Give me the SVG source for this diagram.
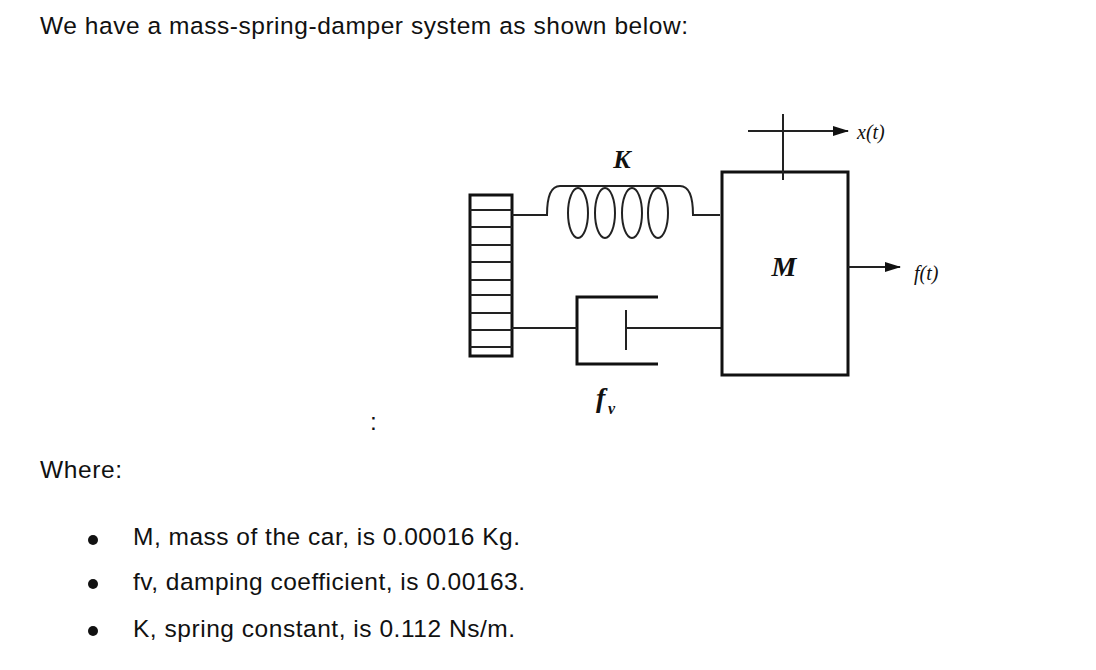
<svg xmlns="http://www.w3.org/2000/svg" width="1096" height="670" viewBox="0 0 1096 670">
<style>
.t{font-family:"Liberation Sans",Arial,sans-serif;font-size:24.5px;fill:#111}
.l{fill:none;stroke:#111;stroke-width:3}
.th{fill:none;stroke:#222;stroke-width:2}
.m{font-family:"Liberation Serif",serif;font-style:italic;fill:#111}
</style>
<defs><marker id="a" markerWidth="16" markerHeight="10" refX="15" refY="5" orient="auto" markerUnits="userSpaceOnUse"><path d="M0,0L16,5L0,10z" fill="#111"/></marker></defs>
<rect width="1096" height="670" fill="#fff"/>
<text class="t" x="40" y="34" textLength="648">We have a mass-spring-damper system as shown below:</text>
<g id="wall">
<rect class="l" x="470" y="195" width="42" height="161"/>
<path class="th" d="M470 210H512M470 227H512M470 245H512M470 262H512M470 280H512M470 295H512M470 313H512M470 330H512M470 347H512" stroke-width="1.2" stroke="#666"/>
</g>
<g id="spring">
<path class="th" d="M512 215H547Q547 186 560 186H680Q693 186 693 215H720"/>
<g class="th"><ellipse cx="578" cy="213" rx="10" ry="25"/><ellipse cx="605" cy="213" rx="10" ry="25"/><ellipse cx="632" cy="213" rx="10" ry="25"/><ellipse cx="658" cy="213" rx="10" ry="25"/></g>
<text class="m" x="622" y="168" font-size="26" font-weight="bold" text-anchor="middle">K</text>
</g>
<g id="damper">
<path class="l" d="M658 297H577V364H658"/>
<path class="th" d="M512 328H577M626 310V350M626 328H722"/>
<text class="m" x="596" y="407" font-size="28" font-weight="bold">f</text><text class="m" x="608" y="414" font-size="16" font-weight="bold">v</text>
</g>
<g id="mass">
<rect class="l" x="722" y="172" width="126" height="203"/>
<text class="m" x="784" y="276" font-size="28" font-weight="bold" text-anchor="middle">M</text>
</g>
<g id="connectors">
<path class="th" d="M783 114V180"/>
<path class="th" d="M748 131H848" marker-end="url(#a)"/>
<path class="th" d="M848 267H900" marker-end="url(#a)"/>
</g>
<text class="m" x="857" y="139" font-size="20">x(t)</text>
<text class="m" x="914" y="280" font-size="20">f(t)</text>
<text class="t" x="370" y="430">:</text>
<text class="t" x="40" y="478" textLength="82">Where:</text>
<g class="t">
<circle cx="93" cy="540" r="5" fill="#111"/><text x="133" y="545" textLength="387">M, mass of the car, is 0.00016 Kg.</text>
<circle cx="93" cy="584" r="5" fill="#111"/><text x="133" y="590" textLength="392">fv, damping coefficient, is 0.00163.</text>
<circle cx="93" cy="631" r="5" fill="#111"/><text x="133" y="637" textLength="382">K, spring constant, is 0.112 Ns/m.</text>
</g>
</svg>
